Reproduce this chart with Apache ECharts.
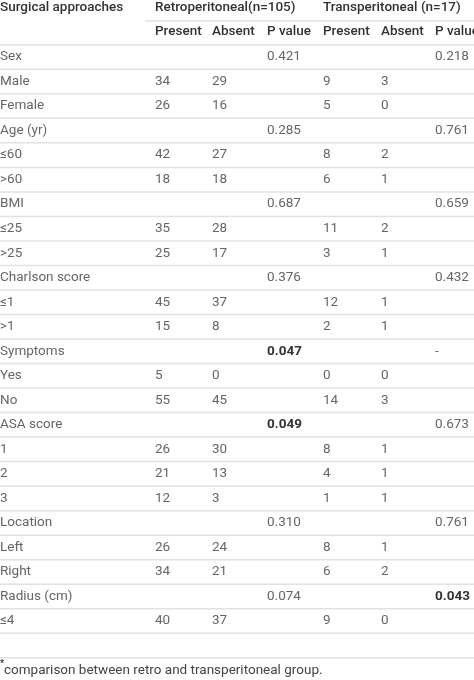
<!DOCTYPE html>
<html><head><meta charset="utf-8">
<script src="https://cdn.jsdelivr.net/npm/echarts@6/dist/echarts.min.js"></script>
<style>html,body{margin:0;padding:0;background:#fff}#c{width:474px;height:680px}</style>
</head><body><div id="c"></div>
<script>
const groupHeaders = ["Retroperitoneal(n=105)", "Transperitoneal (n=17)"];
const subHeaders = ["Present", "Absent", "P value", "Present", "Absent", "P value"];
const rowLabels = ["Sex","Male","Female","Age (yr)","≤60",">60","BMI","≤25",">25","Charlson score","≤1",">1","Symptoms","Yes","No","ASA score","1","2","3","Location","Left","Right","Radius (cm)","≤4",""];
const retroPresent = ["","34","26","","42","18","","35","25","","45","15","","5","55","","26","21","12","","26","34","","40",""];
const retroAbsent  = ["","29","16","","27","18","","28","17","","37","8","","0","45","","30","13","3","","24","21","","37",""];
const retroP       = ["0.421","","","0.285","","","0.687","","","0.376","","","0.047","","","0.049","","","","0.310","","","0.074","",""];
const transPresent = ["","9","5","","8","6","","11","3","","12","2","","0","14","","8","4","1","","8","6","","9",""];
const transAbsent  = ["","3","0","","2","1","","2","1","","1","1","","0","3","","1","1","1","","1","2","","0",""];
const transP       = ["0.218","","","0.761","","","0.659","","","0.432","","","-","","","0.673","","","","0.761","","","0.043","",""];
const boldTransP = [22];
const boldRetroP = [12,15];
const footnote = "comparison between retro and transperitoneal group.";

const colX = [155,212,267,323,381,435];
const rowY0 = 57, pitch = 24.52;
const font = 'Roboto, "Noto Sans", sans-serif';
const els = [];
function txt(x,y,s,opt){els.push({type:'text',x:x,y:y,style:Object.assign({text:s,fill:'#666',font:'13.5px '+font,textVerticalAlign:'middle'},opt||{})});}
function line(x1,y,x2){els.push({type:'line',shape:{x1:x1,y1:y,x2:x2,y2:y},style:{stroke:'#e2e2e2',lineWidth:1.5}});}
txt(0,8,"Surgical approaches",{fill:'#333',font:'500 13.5px '+font});
txt(155,8,groupHeaders[0],{fill:'#333',font:'500 13.5px '+font});
txt(323,8,groupHeaders[1],{fill:'#333',font:'500 13.5px '+font});
line(145,21,474);
subHeaders.forEach((h,i)=>txt(colX[i],32,h,{fill:'#333',font:'500 13.5px '+font}));
line(0,45,474);
const cols=[retroPresent,retroAbsent,retroP,transPresent,transAbsent,transP];
rowLabels.forEach((lab,r)=>{
  const y=rowY0+r*pitch;
  txt(0,y,lab);
  cols.forEach((c,i)=>{
    if(!c[r])return;
    const bold=(i===2&&boldRetroP.includes(r))||(i===5&&boldTransP.includes(r));
    txt(colX[i],y,c[r],bold?{fill:'#333',font:'bold 13.5px '+font}:{});
  });
  line(0,y+12.3,474);
});
txt(0,664,"*",{fill:'#333',font:'bold 9px '+font});
txt(4,671,footnote,{fill:'#444',font:'13.5px '+font});
const chart=echarts.init(document.getElementById('c'));
chart.setOption({animation:false,graphic:{elements:els}});
</script></body></html>
